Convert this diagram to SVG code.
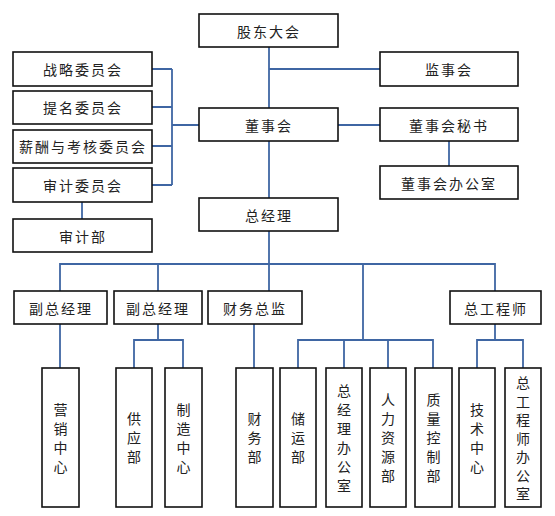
<svg xmlns="http://www.w3.org/2000/svg" width="555" height="516" viewBox="0 0 555 516">
<style>
rect.b{fill:#fff;stroke:#111;stroke-width:1.6}
text{font-family:"Noto Sans CJK SC","Noto Sans",sans-serif;font-size:14px;fill:#222;text-anchor:middle;dominant-baseline:central;letter-spacing:2px}
text.v{letter-spacing:0}
#conn path{fill:none;stroke:#3f66a3;stroke-width:1.8}
</style>
<rect width="555" height="516" fill="#fff"/>
<g id="conn">
<path d="M269 47V291"/>
<path d="M269 69H380"/>
<path d="M152 69H172M152 107H172M152 146H172M152 185H172M172 69V185M172 125H199"/>
<path d="M338 125H380"/>
<path d="M449 141V166"/>
<path d="M82 202V219"/>
<path d="M60 291V264H495V291M158 264V291"/>
<path d="M363 264V340M298 368V340H433V368M344 340V368M388 340V368"/>
<path d="M60 324V368"/>
<path d="M158 324V340M134 368V340H183V368"/>
<path d="M254 324V368"/>
<path d="M495 324V340M477 368V340H523V368"/>
</g>
<g id="n_gudong"><rect class="b" x="199" y="14" width="139" height="33"/><text x="269" y="31">股东大会</text></g>
<g id="n_jianshi"><rect class="b" x="380" y="52" width="138" height="34"/><text x="449" y="69">监事会</text></g>
<g id="n_zhanlue"><rect class="b" x="13" y="52" width="139" height="34"/><text x="83" y="69">战略委员会</text></g>
<g id="n_timing"><rect class="b" x="13" y="91" width="139" height="33"/><text x="83" y="107">提名委员会</text></g>
<g id="n_xinchou"><rect class="b" x="13" y="130" width="139" height="33"/><text x="83" y="146">薪酬与考核委员会</text></g>
<g id="n_shenjiwei"><rect class="b" x="13" y="168" width="139" height="34"/><text x="83" y="185">审计委员会</text></g>
<g id="n_shenjibu"><rect class="b" x="13" y="219" width="139" height="33"/><text x="83" y="236">审计部</text></g>
<g id="n_dongshi"><rect class="b" x="199" y="108" width="139" height="33"/><text x="269" y="125">董事会</text></g>
<g id="n_mishu"><rect class="b" x="380" y="108" width="138" height="33"/><text x="449" y="125">董事会秘书</text></g>
<g id="n_dongban"><rect class="b" x="380" y="166" width="138" height="33"/><text x="449" y="183">董事会办公室</text></g>
<g id="n_zongjingli"><rect class="b" x="199" y="198" width="139" height="33"/><text x="269" y="215">总经理</text></g>
<g id="n_fu1"><rect class="b" x="14" y="291" width="93" height="33"/><text x="61" y="308">副总经理</text></g>
<g id="n_fu2"><rect class="b" x="114" y="291" width="88" height="33"/><text x="158" y="308">副总经理</text></g>
<g id="n_caiwuzj"><rect class="b" x="208" y="291" width="94" height="33"/><text x="255" y="308">财务总监</text></g>
<g id="n_zonggong"><rect class="b" x="450" y="291" width="91" height="33"/><text x="496" y="308">总工程师</text></g>
<g id="n_yingxiao"><rect class="b" x="42" y="368" width="37" height="139"/><text class="v"><tspan x="60.5" y="409">营</tspan><tspan x="60.5" y="428">销</tspan><tspan x="60.5" y="447">中</tspan><tspan x="60.5" y="466">心</tspan></text></g>
<g id="n_gongying"><rect class="b" x="116" y="368" width="36" height="139"/><text class="v"><tspan x="134" y="418">供</tspan><tspan x="134" y="437">应</tspan><tspan x="134" y="456">部</tspan></text></g>
<g id="n_zhizao"><rect class="b" x="165" y="368" width="37" height="139"/><text class="v"><tspan x="183.5" y="409">制</tspan><tspan x="183.5" y="428">造</tspan><tspan x="183.5" y="447">中</tspan><tspan x="183.5" y="466">心</tspan></text></g>
<g id="n_caiwubu"><rect class="b" x="236" y="368" width="37" height="139"/><text class="v"><tspan x="254.5" y="418">财</tspan><tspan x="254.5" y="437">务</tspan><tspan x="254.5" y="456">部</tspan></text></g>
<g id="n_chuyun"><rect class="b" x="280" y="368" width="36" height="139"/><text class="v"><tspan x="298" y="418">储</tspan><tspan x="298" y="437">运</tspan><tspan x="298" y="456">部</tspan></text></g>
<g id="n_zjban"><rect class="b" x="326" y="368" width="36" height="139"/><text class="v"><tspan x="344" y="390">总</tspan><tspan x="344" y="409">经</tspan><tspan x="344" y="428">理</tspan><tspan x="344" y="447">办</tspan><tspan x="344" y="466">公</tspan><tspan x="344" y="485">室</tspan></text></g>
<g id="n_renli"><rect class="b" x="370" y="368" width="36" height="139"/><text class="v"><tspan x="388" y="399">人</tspan><tspan x="388" y="418">力</tspan><tspan x="388" y="437">资</tspan><tspan x="388" y="456">源</tspan><tspan x="388" y="475">部</tspan></text></g>
<g id="n_zhiliang"><rect class="b" x="415" y="368" width="37" height="139"/><text class="v"><tspan x="433.5" y="399">质</tspan><tspan x="433.5" y="418">量</tspan><tspan x="433.5" y="437">控</tspan><tspan x="433.5" y="456">制</tspan><tspan x="433.5" y="475">部</tspan></text></g>
<g id="n_jishu"><rect class="b" x="459" y="368" width="36" height="139"/><text class="v"><tspan x="477" y="409">技</tspan><tspan x="477" y="428">术</tspan><tspan x="477" y="447">中</tspan><tspan x="477" y="466">心</tspan></text></g>
<g id="n_zgban"><rect class="b" x="505" y="368" width="36" height="139"/><text class="v"><tspan x="523" y="382">总</tspan><tspan x="523" y="400.5">工</tspan><tspan x="523" y="419">程</tspan><tspan x="523" y="437.5">师</tspan><tspan x="523" y="456">办</tspan><tspan x="523" y="474.5">公</tspan><tspan x="523" y="493">室</tspan></text></g>
</svg>
